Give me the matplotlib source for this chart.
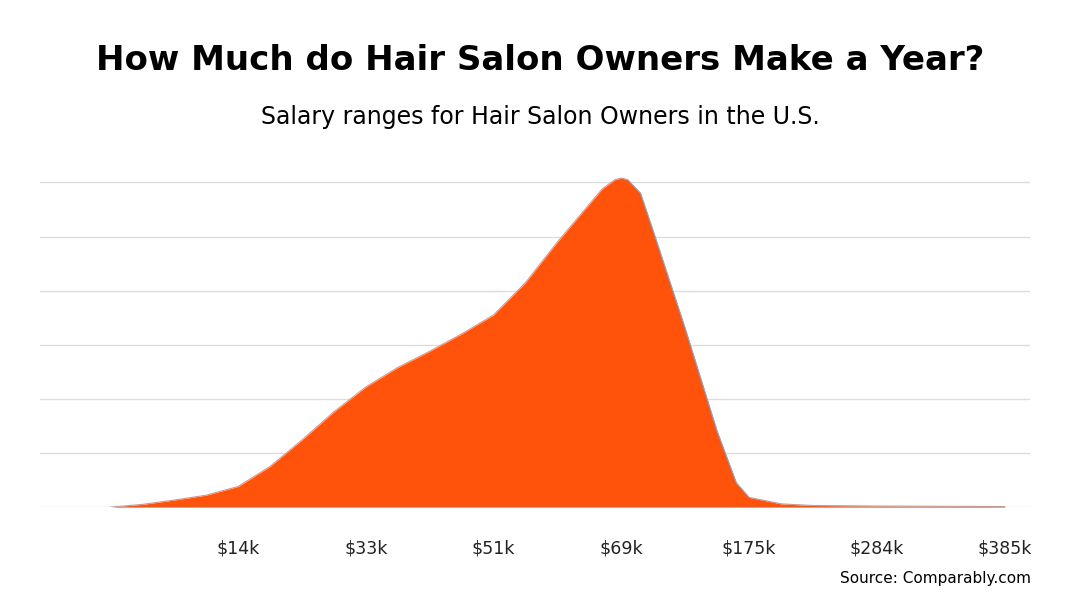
import matplotlib.pyplot as plt

# positions along the category axis (0 = start of curve, 1 = $14k, ...)
pos = [0, 0.25, 0.5, 0.75, 1, 1.25, 1.5, 1.75, 2, 2.25, 2.5, 2.75, 3, 3.25, 3.5,
       3.75, 3.85, 3.95, 4, 4.05, 4.15, 4.25, 4.5, 4.75, 4.9, 5, 5.25, 5.5, 6, 7]
vals = [0.0, 0.05, 0.13, 0.22, 0.38, 0.75, 1.24, 1.76, 2.22, 2.58, 2.88, 3.2, 3.55,
        4.15, 4.9, 5.6, 5.88, 6.05, 6.08, 6.05, 5.8, 5.1, 3.3, 1.4, 0.45, 0.18, 0.06,
        0.03, 0.02, 0.01]
tick_pos = [1, 2, 3, 4, 5, 6, 7]
tick_labels = ["$14k", "$33k", "$51k", "$69k", "$175k", "$284k", "$385k"]

plt.rcParams['font.family'] = ['DejaVu Sans']
fig = plt.figure(figsize=(10.8, 6.03), dpi=100)
ax = fig.add_axes([0.037, 0.159, 0.917, 0.552])

ax.fill_between(pos, vals, 0, color="#FF520A", linewidth=0)
ax.plot(pos, vals, color="#9aa7c0", linewidth=0.8)

ax.set_xlim(-0.55, 7.2)
ax.set_ylim(0, 6.15)
ax.set_yticks(range(0, 7))
ax.yaxis.grid(True, color="#dddddd", linewidth=1)
ax.set_axisbelow(True)
ax.tick_params(left=False, labelleft=False, bottom=False)
ax.set_xticks(tick_pos)
ax.set_xticklabels(tick_labels, fontsize=12.5, color="#222222")
ax.tick_params(axis='x', pad=20)
for s in ax.spines.values():
    s.set_visible(False)

fig.text(0.5, 0.9, "How Much do Hair Salon Owners Make a Year?", ha="center", va="center",
         fontsize=24.5, fontweight="bold", color="black")
fig.text(0.5, 0.806, "Salary ranges for Hair Salon Owners in the U.S.", ha="center",
         va="center", fontsize=17, color="black")
fig.text(0.955, 0.04, "Source: Comparably.com", ha="right", va="center", fontsize=11)

plt.savefig("out.png")
